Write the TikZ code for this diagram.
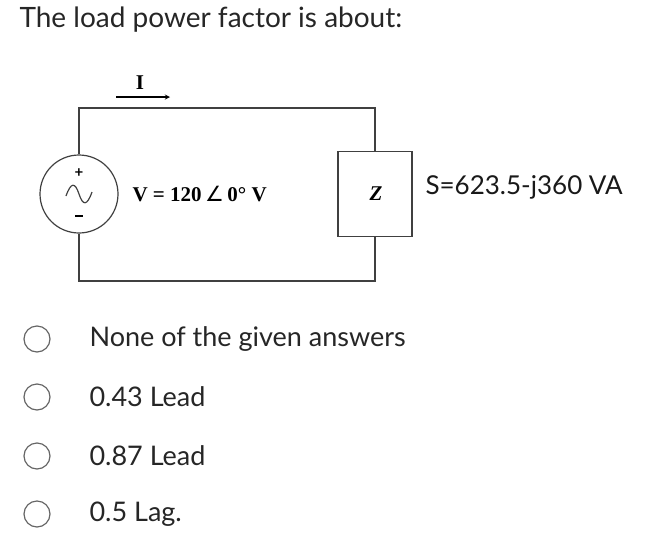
\documentclass[tikz,border=0pt]{standalone}
\usepackage{fontspec}
\setmainfont{Lato}
\newfontfamily\tms{Liberation Serif}
\newfontfamily\dv{DejaVu Sans}
\begin{document}
\begin{tikzpicture}[x=1pt,y=-1pt,
  wire/.style={draw=black!75,line width=1.2pt},
  opt/.style={circle,draw=black!60,line width=1.2pt,minimum size=26pt,inner sep=0},
  ans/.style={anchor=west,font=\fontsize{27}{30}\selectfont,text=black!85},
  ckt/.style={font=\tms\bfseries\fontsize{21}{24}\selectfont}]
\useasboundingbox (0,0) rectangle (654,550);
\node[anchor=west,font=\fontsize{28}{32}\selectfont,text=black!85] (q) at (16,20) {The load power factor is about:};
% circuit
\coordinate (tl) at (79,108); \coordinate (tr) at (375,108);
\coordinate (bl) at (79,281); \coordinate (br) at (375,281);
\node[circle,draw=black!75,line width=1.2pt,minimum size=78pt,inner sep=0] (src) at (79,194) {};
\node[draw=black!75,line width=1.2pt,minimum width=74pt,minimum height=85pt,inner sep=0] (z) at (375,194) {};
\path[wire] (src.north) -- (tl) -- (tr) -- (z.north);
\path[wire] (src.south) -- (bl) -- (br) -- (z.south);
\draw[black!75,line width=1.2pt] (66,196) .. controls (71,182) and (75,182) .. (79,194) .. controls (83,206) and (87,206) .. (92,192);
\node[font=\bfseries\fontsize{15}{15}\selectfont] (pl) at (79,173) {+};
\draw[line width=1.2pt] (75,216) -- (83,216);
\node[ckt,anchor=west] (vl) at (129,194) {V = 120\,{\dv\mdseries∠}\,0° V};
\node[ckt] (zl) at (376,194) {\itshape Z};
\coordinate (a1) at (116,97); \coordinate (a2) at (170,97);
\draw[line width=1.3pt,-stealth] (a1) -- (a2);
\node[ckt] (il) at (140,83) {I};
\node[anchor=west,font=\fontsize{26}{30}\selectfont,text=black!90] (s) at (422,187) {S=623.5-j360 VA};
% options
\foreach \y/\t [count=\i] in {339/None of the given answers,397/0.43 Lead,456/0.87 Lead,514/0.5 Lag.}{
  \node[opt] (o\i) at (37,\y) {};
  \node[ans] (t\i) at (86,\y) {\t};
}
\end{tikzpicture}
\end{document}
